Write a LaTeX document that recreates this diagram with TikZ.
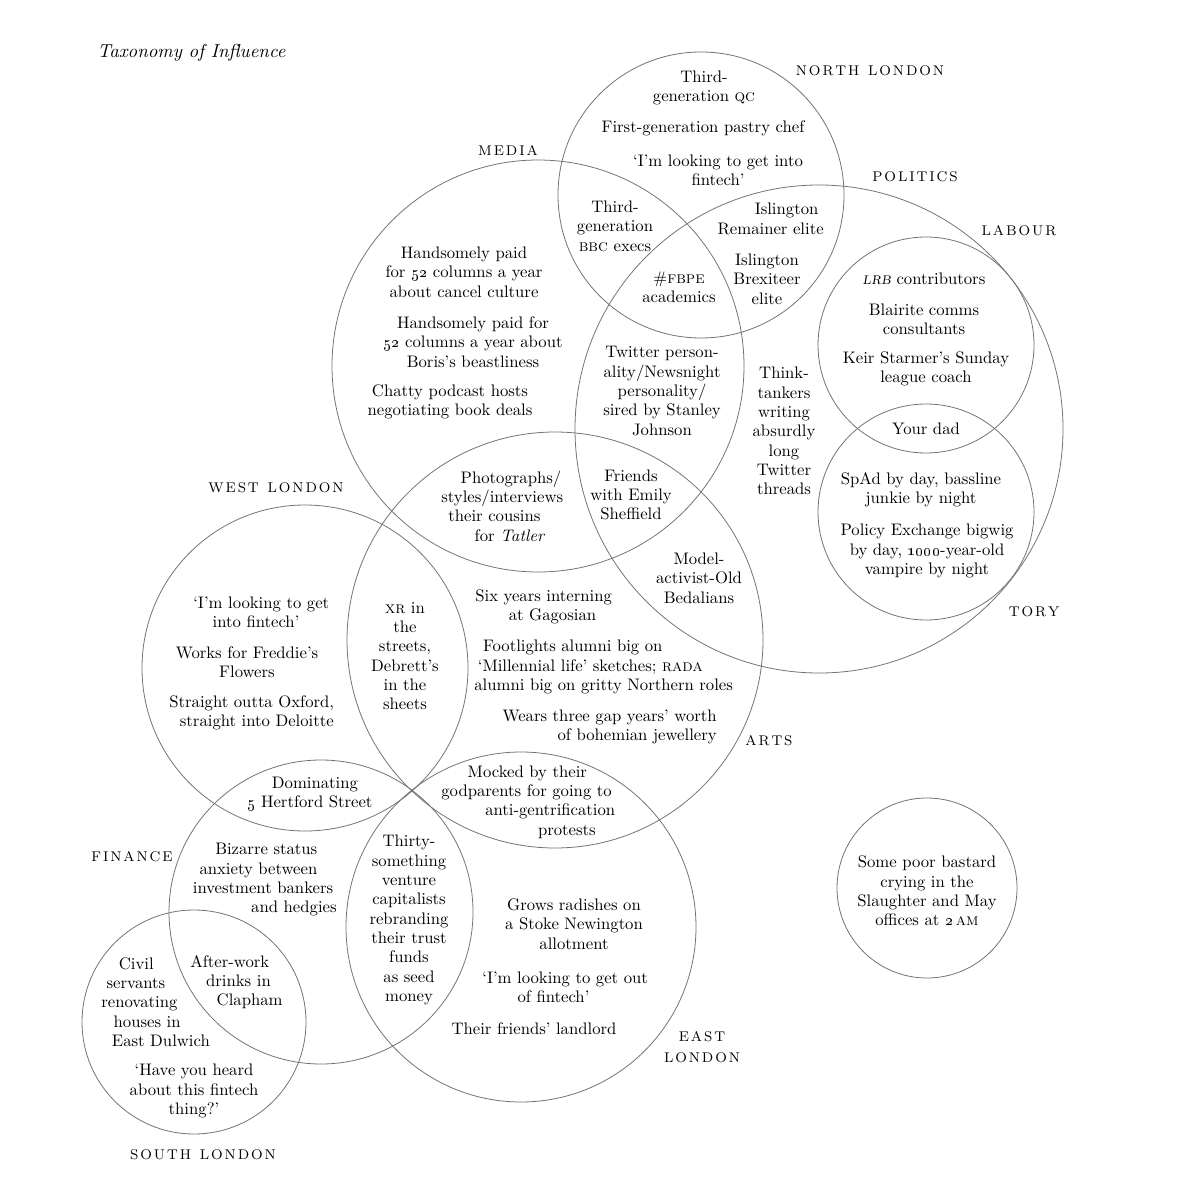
\documentclass[tikz,border=0pt]{standalone}
\usepackage{tikz}

\makeatletter
\newcommand{\spacedcaps}[1]{\spaced@#1\@nil}
\def\spaced@#1{\ifx#1\@nil\unkern\else#1\kern1.1pt\expandafter\spaced@\fi}
\makeatother

\newcommand{\blurbfont}{\fontsize{9.5}{11}\selectfont}
\newcommand{\zonefont}{\fontsize{8}{12}\fontseries{db}\selectfont}

\tikzset{
  ring/.style={draw=black!55, line width=0.45pt},
  blurb/.style={font=\blurbfont, align=center, inner sep=0pt},
  zone/.style={font=\zonefont, align=center, inner sep=0pt},
}

\begin{document}
\begin{tikzpicture}[x=0.2mm, y=-0.2mm]
  \fill[white] (0,0) rectangle (1200,1200);
  \node[font=\fontsize{10.7}{13}\selectfont\itshape, anchor=west, inner sep=0pt] (title) at (97,53) {Taxonomy of Influence};

  % Circles
  \draw[ring] (701,195) circle (143);  % north london
  \draw[ring] (538,366) circle (206);  % media
  \draw[ring] (819,429) circle (244);  % politics
  \draw[ring] (926,345) circle (108);  % labour
  \draw[ring] (926,512) circle (108);  % tory
  \draw[ring] (555,640) circle (208);  % arts
  \draw[ring] (305,668) circle (163);  % west london
  \draw[ring] (321,912) circle (152);  % finance
  \draw[ring] (521,927) circle (175);  % east london
  \draw[ring] (194,1022) circle (112); % south london
  \draw[ring] (927,888) circle (90);   % on its own

  % Zone labels
  \node[zone] (lbl-north) at (870,71) {\spacedcaps{NORTH\ LONDON}};
  \node[zone] (lbl-media) at (508,150) {\spacedcaps{MEDIA}};
  \node[zone] (lbl-politics) at (915,177) {\spacedcaps{POLITICS}};
  \node[zone] (lbl-labour) at (1019,231) {\spacedcaps{LABOUR}};
  \node[zone] (lbl-tory) at (1034,612) {\spacedcaps{TORY}};
  \node[zone] (lbl-west) at (276,488) {\spacedcaps{WEST\ LONDON}};
  \node[zone] (lbl-arts) at (769,741) {\spacedcaps{ARTS}};
  \node[zone] (lbl-finance) at (132,857) {\spacedcaps{FINANCE}};
  \node[zone] (lbl-east) at (702,1047) {\spacedcaps{EAST}\\\spacedcaps{LONDON}};
  \node[zone] (lbl-south) at (203,1155) {\spacedcaps{SOUTH\ LONDON}};

  % --- North London ---
  \node[blurb] (qc) at (704,88) {Third-\\generation \textsc{qc}};
  \node[blurb] (chef) at (703,128) {First-generation pastry chef};
  \node[blurb] (fintech-in) at (718,170) {`I'm looking to get into\\fintech'};
  \node[blurb] (bbc) at (615,226) {Third-\\generation\\\textsc{bbc} execs};
  \node[blurb, align=right, anchor=east] (remainer) at (824,219) {Islington\kern3pt\\Remainer elite};
  \node[blurb] (brexiteer) at (767,279) {Islington\\Brexiteer\\elite};
  \node[blurb] (fbpe) at (679,287) {\#\textsc{fbpe}\\academics};

  % --- Media ---
  \node[blurb] (cancel) at (464,272) {Handsomely paid\\for \oldstylenums{52} columns a year\\about cancel culture};
  \node[blurb] (boris) at (473,342) {Handsomely paid for\\\oldstylenums{52} columns a year about\\Boris's beastliness};
  \node[blurb] (podcast) at (450,402) {Chatty podcast hosts\\negotiating book deals};
  \node[blurb] (newsnight) at (662,391) {Twitter person-\\ality/Newsnight\\personality/\\sired by Stanley\\Johnson};
  \node[blurb, align=left, anchor=west] (tatler) at (441,506) {\hspace*{11pt}Photographs/\\styles/interviews\\\hspace*{4pt}their cousins\\\hspace*{19pt}for \textit{Tatler}};
  \node[blurb] (sheffield) at (631,495) {Friends\\with Emily\\Sheffield};

  % --- Politics ---
  \node[blurb] (think) at (784,431) {Think-\\tankers\\writing\\absurdly\\long\\Twitter\\threads};
  \node[blurb] (bedalians) at (699,578) {Model-\\activist-Old\\Bedalians};
  \node[blurb] (lrb) at (924,279) {\textit{\textsc{lrb}} contributors};
  \node[blurb] (blairite) at (924,319) {Blairite comms\\consultants};
  \node[blurb] (starmer) at (926,369) {Keir Starmer's Sunday\\league coach};
  \node[blurb] (dad) at (926,429) {Your dad};
  \node[blurb] (spad) at (921,490) {SpAd by day, bassline\\junkie by night};
  \node[blurb] (vampire) at (927,551) {Policy Exchange bigwig\\by day, \oldstylenums{1000}-year-old\\vampire by night};

  % --- Arts ---
  \node[blurb, align=left, anchor=west] (gagosian) at (475,607) {Six years interning\\\hspace*{19pt}at Gagosian};
  \node[blurb, align=left, anchor=west] (footlights) at (474,667) {\hspace*{5pt}Footlights alumni big on\\\hspace*{2pt}`Millennial life' sketches; \textsc{rada}\\alumni big on gritty Northern roles};
  \node[blurb, align=right, anchor=east] (jewellery) at (717,727) {Wears three gap years' worth\\of bohemian jewellery};
  \node[blurb] (xr) at (405,656) {\textsc{xr} in\\the\\streets,\\Debrett's\\in the\\sheets};
  \node[blurb, align=left, anchor=west] (mocked) at (441,802) {\hspace*{15pt}Mocked by their\\godparents for going to\\\hspace*{25pt}anti-gentrification\\\hspace*{55pt}protests};

  % --- West London ---
  \node[blurb, align=left, anchor=west] (fintech-west) at (193,612) {`I'm looking to get\\\hspace*{11pt}into fintech'};
  \node[blurb] (freddie) at (247,662) {Works for Freddie's\\Flowers};
  \node[blurb, align=left, anchor=west] (deloitte) at (169,713) {Straight outta Oxford,\\\hspace*{6pt}straight into Deloitte};
  \node[blurb, align=left, anchor=west] (hertford) at (247,794) {\hspace*{14pt}Dominating\\\oldstylenums{5} Hertford Street};

  % --- Finance ---
  \node[blurb, align=right, anchor=east] (hedgies) at (337,880) {Bizarre status\kern11pt\\anxiety between\kern11pt\\investment bankers\kern2pt\\and hedgies};
  \node[blurb] (vc) at (409,920) {Thirty-\\something\\venture\\capitalists\\rebranding\\their trust\\funds\\as seed\\money};

  % --- East London ---
  \node[blurb] (radishes) at (574,924) {Grows radishes on\\a Stoke Newington\\allotment};
  \node[blurb, align=left, anchor=west] (fintech-out) at (482,987) {`I'm looking to get out\\\hspace*{20pt}of fintech'};
  \node[blurb] (landlord) at (534,1029) {Their friends' landlord};

  % --- South London ---
  \node[blurb, align=left, anchor=west] (clapham) at (190,982) {After-work\\\hspace*{9pt}drinks in\\\hspace*{15pt}Clapham};
  \node[blurb, align=left, anchor=west] (dulwich) at (101,1002) {\hspace*{10pt}Civil\\\hspace*{3pt}servants\\renovating\\\hspace*{7pt}houses in\\\hspace*{6pt}East Dulwich};
  \node[blurb] (heard) at (194,1091) {`Have you heard\\about this fintech\\thing?'};

  % --- On its own ---
  \node[blurb] (slaughter) at (927,891) {Some poor bastard\\crying in the\\Slaughter and May\\offices at \oldstylenums{2}\,\textsc{am}};
\end{tikzpicture}
\end{document}
